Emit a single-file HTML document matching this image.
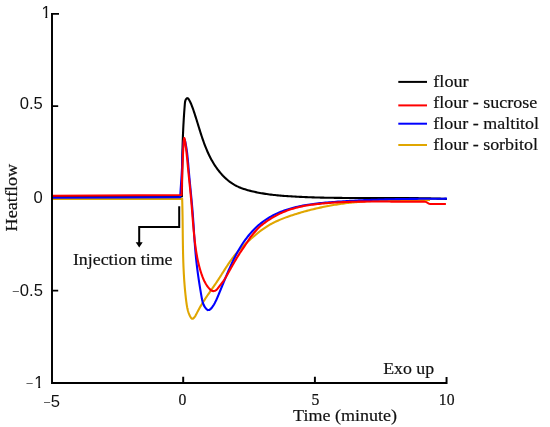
<!DOCTYPE html>
<html>
<head>
<meta charset="utf-8">
<title>Heatflow</title>
<style>
html,body{margin:0;padding:0;background:#fff;}
svg{display:block;}
.ser{font-family:"Liberation Serif","DejaVu Serif",serif;fill:#111;}
.san{font-family:"Liberation Sans","DejaVu Sans",sans-serif;fill:#111;}
</style>
</head>
<body>
<svg width="550" height="427" viewBox="0 0 550 427">
<rect width="550" height="427" fill="#ffffff"/>
<!-- curves -->
<g fill="none" stroke-width="2.1" stroke-linejoin="round" stroke-linecap="butt">
<path d="M52,196.5 L181.9,196.5 L181.90,196.49 L181.91,195.12 L181.93,193.74 L181.94,192.36 L181.96,190.98 L181.97,189.60 L181.98,188.21 L182.00,186.83 L182.01,185.45 L182.02,184.06 L182.04,182.67 L182.05,181.29 L182.06,179.90 L182.08,178.51 L182.09,177.12 L182.10,175.73 L182.12,174.34 L182.13,172.95 L182.15,171.55 L182.16,170.16 L182.18,168.77 L182.19,167.38 L182.21,165.99 L182.23,164.59 L182.25,163.20 L182.27,161.81 L182.29,160.42 L182.31,159.02 L182.34,157.63 L182.36,156.24 L182.39,154.85 L182.42,153.46 L182.45,152.07 L182.48,150.68 L182.51,149.29 L182.55,147.91 L182.58,146.52 L182.62,145.14 L182.66,143.75 L182.70,142.37 L182.75,140.98 L182.79,139.60 L182.84,138.22 L182.89,136.84 L182.94,135.47 L183.00,134.09 L183.06,132.71 L183.12,131.34 L183.18,129.96 L183.24,128.59 L183.31,127.21 L183.38,125.84 L183.45,124.46 L183.53,123.08 L183.61,121.70 L183.69,120.32 L183.77,118.93 L183.86,117.55 L183.95,116.16 L184.04,114.76 L184.13,113.37 L184.23,111.97 L184.33,110.56 L184.44,109.15 L184.54,107.74 L184.65,106.32 L184.77,104.89 L184.88,103.46 L185.04,102.04 L185.34,100.69 L185.88,99.44 L186.76,98.39 L187.74,98.16 L188.57,99.06 L189.31,100.25 L189.97,101.47 L190.58,102.71 L191.14,103.98 L191.66,105.27 L192.15,106.57 L192.63,107.88 L193.09,109.20 L193.55,110.52 L193.99,111.84 L194.43,113.16 L194.87,114.48 L195.29,115.81 L195.72,117.14 L196.14,118.47 L196.55,119.79 L196.96,121.13 L197.38,122.46 L197.78,123.79 L198.19,125.12 L198.60,126.45 L199.01,127.78 L199.42,129.10 L199.83,130.43 L200.25,131.76 L200.67,133.08 L201.09,134.40 L201.52,135.72 L201.95,137.03 L202.39,138.35 L202.84,139.66 L203.30,140.96 L203.76,142.26 L204.24,143.56 L204.72,144.85 L205.21,146.14 L205.72,147.42 L206.24,148.70 L206.77,149.97 L207.31,151.24 L207.87,152.50 L208.44,153.75 L209.03,155.00 L209.64,156.23 L210.26,157.47 L210.90,158.69 L211.56,159.91 L212.23,161.11 L212.93,162.31 L213.65,163.50 L214.39,164.69 L215.15,165.86 L215.94,167.02 L216.74,168.16 L217.57,169.30 L218.42,170.42 L219.29,171.52 L220.18,172.60 L221.09,173.66 L222.02,174.71 L222.98,175.73 L223.96,176.72 L224.96,177.69 L225.98,178.64 L227.02,179.56 L228.08,180.44 L229.16,181.30 L230.27,182.13 L231.40,182.92 L232.54,183.68 L233.71,184.40 L234.90,185.08 L236.11,185.73 L237.34,186.34 L238.59,186.92 L239.85,187.46 L241.13,187.98 L242.42,188.47 L243.73,188.93 L245.04,189.36 L246.37,189.77 L247.70,190.16 L249.05,190.53 L250.39,190.88 L251.75,191.22 L253.10,191.53 L254.46,191.84 L255.83,192.13 L257.19,192.41 L258.55,192.68 L259.92,192.93 L261.29,193.18 L262.65,193.41 L264.02,193.63 L265.39,193.84 L266.77,194.05 L268.14,194.24 L269.51,194.42 L270.89,194.60 L272.27,194.76 L273.64,194.92 L275.02,195.07 L276.40,195.22 L277.78,195.35 L279.16,195.48 L280.54,195.60 L281.92,195.72 L283.30,195.83 L284.69,195.94 L286.07,196.04 L287.45,196.13 L288.84,196.23 L290.22,196.31 L291.61,196.40 L292.99,196.48 L294.37,196.56 L295.76,196.63 L297.14,196.70 L298.53,196.77 L299.91,196.84 L301.30,196.91 L302.68,196.97 L304.07,197.03 L305.46,197.09 L306.84,197.14 L308.23,197.20 L309.61,197.25 L311.00,197.30 L312.38,197.34 L313.77,197.39 L315.16,197.43 L316.54,197.47 L317.93,197.51 L319.31,197.55 L320.70,197.58 L322.09,197.62 L323.47,197.65 L324.86,197.68 L326.25,197.71 L327.63,197.73 L329.02,197.76 L330.41,197.78 L331.79,197.80 L333.18,197.82 L334.57,197.84 L335.95,197.86 L337.34,197.88 L338.73,197.89 L340.11,197.91 L341.50,197.92 L342.89,197.93 L344.28,197.94 L345.66,197.95 L347.05,197.96 L348.44,197.97 L349.83,197.97 L351.21,197.98 L352.60,197.99 L353.99,197.99 L355.37,197.99 L356.76,198.00 L358.15,198.00 L359.54,198.00 L360.92,198.00 L362.31,198.00 L363.70,198.00 L365.09,198.00 L366.47,198.00 L367.86,198.00 L369.25,198.00 L370.64,198.00 L372.02,198.00 L373.41,198.00 L374.80,198.00 L376.19,197.99 L377.57,197.99 L378.96,197.99 L380.35,197.99 L381.74,197.99 L383.12,197.99 L384.51,197.99 L385.90,197.99 L387.29,197.99 L388.67,197.99 L390.06,197.99 L391.45,197.99 L392.83,197.99 L394.22,197.99 L395.61,197.99 L397.00,198.00 L398.38,198.00 L399.77,198.01 L401.16,198.01 L402.54,198.02 L403.93,198.03 L405.32,198.03 L406.70,198.04 L408.09,198.05 L409.48,198.07 L410.86,198.08 L412.25,198.09 L413.64,198.11 L415.02,198.12 L416.41,198.14 L417.80,198.16 L419.18,198.18 L420.57,198.20 L421.95,198.22 L423.34,198.25 L424.73,198.27 L426.11,198.30 L427.50,198.33 L428.88,198.36 L430.27,198.39 L431.66,198.43 L433.04,198.46 L434.43,198.50 L435.81,198.54 L437.20,198.58 L438.58,198.62 L439.97,198.67 L441.35,198.72 L442.74,198.77 L444.12,198.82 L445.51,198.88 L446.89,198.93" stroke="#000000"/>
<path d="M52,198.95 L182.2,198.8 L182.20,200.01 L182.24,201.37 L182.28,202.73 L182.31,204.09 L182.35,205.45 L182.38,206.81 L182.41,208.17 L182.44,209.54 L182.46,210.90 L182.49,212.26 L182.51,213.62 L182.54,214.99 L182.56,216.35 L182.58,217.71 L182.59,219.08 L182.61,220.44 L182.63,221.81 L182.65,223.17 L182.66,224.53 L182.68,225.90 L182.69,227.26 L182.71,228.63 L182.72,229.99 L182.74,231.36 L182.75,232.72 L182.77,234.09 L182.78,235.45 L182.80,236.82 L182.81,238.18 L182.83,239.55 L182.85,240.92 L182.87,242.28 L182.89,243.65 L182.91,245.01 L182.93,246.38 L182.95,247.74 L182.98,249.11 L183.01,250.47 L183.03,251.84 L183.06,253.20 L183.10,254.56 L183.13,255.93 L183.17,257.29 L183.21,258.66 L183.25,260.02 L183.29,261.38 L183.34,262.75 L183.39,264.11 L183.44,265.47 L183.50,266.84 L183.56,268.20 L183.62,269.56 L183.68,270.92 L183.75,272.28 L183.82,273.64 L183.90,275.01 L183.98,276.37 L184.06,277.73 L184.15,279.09 L184.24,280.45 L184.34,281.80 L184.44,283.16 L184.54,284.52 L184.65,285.88 L184.76,287.24 L184.88,288.59 L185.01,289.95 L185.14,291.30 L185.27,292.66 L185.41,294.01 L185.56,295.37 L185.71,296.72 L185.86,298.08 L186.02,299.43 L186.19,300.78 L186.36,302.13 L186.55,303.48 L186.74,304.83 L186.96,306.18 L187.20,307.52 L187.48,308.86 L187.80,310.19 L188.18,311.52 L188.62,312.84 L189.12,314.15 L189.70,315.45 L190.36,316.74 L191.11,317.95 L191.97,318.72 L192.93,318.67 L193.93,317.87 L194.82,316.77 L195.58,315.59 L196.24,314.36 L196.86,313.12 L197.48,311.88 L198.12,310.65 L198.77,309.43 L199.43,308.23 L200.11,307.04 L200.80,305.85 L201.50,304.68 L202.21,303.51 L202.93,302.35 L203.66,301.20 L204.40,300.06 L205.15,298.92 L205.90,297.79 L206.66,296.66 L207.42,295.53 L208.19,294.41 L208.96,293.29 L209.73,292.17 L210.51,291.06 L211.29,289.94 L212.06,288.83 L212.84,287.71 L213.61,286.59 L214.39,285.47 L215.16,284.35 L215.92,283.23 L216.69,282.09 L217.45,280.96 L218.20,279.82 L218.94,278.67 L219.68,277.52 L220.42,276.37 L221.16,275.22 L221.89,274.06 L222.62,272.90 L223.36,271.74 L224.09,270.59 L224.83,269.43 L225.57,268.28 L226.31,267.13 L227.06,265.98 L227.81,264.84 L228.57,263.71 L229.34,262.58 L230.11,261.46 L230.90,260.35 L231.70,259.24 L232.51,258.15 L233.33,257.07 L234.16,256.00 L235.01,254.94 L235.87,253.90 L236.75,252.87 L237.64,251.85 L238.55,250.84 L239.46,249.85 L240.39,248.86 L241.34,247.89 L242.29,246.92 L243.25,245.96 L244.22,245.01 L245.21,244.07 L246.20,243.13 L247.19,242.20 L248.20,241.28 L249.21,240.36 L250.23,239.44 L251.25,238.53 L252.28,237.63 L253.32,236.72 L254.36,235.83 L255.41,234.95 L256.47,234.07 L257.54,233.21 L258.61,232.36 L259.69,231.52 L260.79,230.69 L261.89,229.88 L263.00,229.08 L264.12,228.30 L265.25,227.54 L266.39,226.80 L267.54,226.07 L268.70,225.37 L269.88,224.69 L271.06,224.03 L272.26,223.39 L273.46,222.76 L274.67,222.16 L275.90,221.57 L277.13,221.00 L278.36,220.44 L279.61,219.90 L280.86,219.37 L282.12,218.86 L283.39,218.35 L284.66,217.87 L285.94,217.39 L287.22,216.92 L288.51,216.47 L289.80,216.02 L291.09,215.59 L292.39,215.16 L293.69,214.74 L294.99,214.32 L296.29,213.91 L297.60,213.51 L298.90,213.12 L300.21,212.73 L301.52,212.34 L302.84,211.97 L304.15,211.60 L305.47,211.23 L306.78,210.88 L308.10,210.52 L309.42,210.18 L310.74,209.84 L312.07,209.51 L313.39,209.18 L314.72,208.86 L316.05,208.55 L317.38,208.24 L318.71,207.94 L320.04,207.64 L321.37,207.35 L322.71,207.07 L324.04,206.80 L325.38,206.53 L326.72,206.26 L328.05,206.01 L329.39,205.76 L330.74,205.51 L332.08,205.27 L333.42,205.04 L334.77,204.82 L336.11,204.60 L337.46,204.39 L338.81,204.18 L340.15,203.98 L341.50,203.79 L342.85,203.60 L344.20,203.42 L345.55,203.25 L346.91,203.08 L348.26,202.92 L349.61,202.77 L350.97,202.62 L352.32,202.47 L353.68,202.34 L355.03,202.21 L356.39,202.08 L357.75,201.96 L359.10,201.84 L360.46,201.73 L361.82,201.63 L363.18,201.53 L364.54,201.43 L365.90,201.34 L367.26,201.25 L368.62,201.17 L369.99,201.10 L371.35,201.02 L372.71,200.95 L374.07,200.89 L375.44,200.82 L376.80,200.77 L378.16,200.71 L379.53,200.66 L380.89,200.61 L382.26,200.57 L383.62,200.53 L384.99,200.49 L386.35,200.45 L387.72,200.42 L389.08,200.39 L390.45,200.36 L391.81,200.33 L393.18,200.31 L394.54,200.29 L395.91,200.27 L397.27,200.25 L398.64,200.23 L400.01,200.21 L401.37,200.20 L402.74,200.19 L404.10,200.18 L405.47,200.17 L406.83,200.16 L408.20,200.15 L409.56,200.14 L410.93,200.13 L412.29,200.13 L413.65,200.12 L415.02,200.11 L416.38,200.11 L417.74,200.10 L419.11,200.09 L420.47,200.08 L421.83,200.08 L423.19,200.07 L424.55,200.06 L425.92,200.05 L427.28,200.04 L428.64,200.03 L430.00,200.01" stroke="#e0a600"/>
<path d="M52,197.7 L180.0,197.15 L180.20,197.15 L180.30,195.38 L180.40,193.63 L180.51,191.88 L180.62,190.14 L180.73,188.39 L180.85,186.65 L180.97,184.90 L181.09,183.14 L181.21,181.36 L181.33,179.57 L181.45,177.77 L181.56,175.96 L181.67,174.15 L181.78,172.35 L181.88,170.58 L181.98,168.83 L182.06,167.13 L182.13,165.49 L182.19,163.90 L182.25,162.35 L182.30,160.82 L182.35,159.28 L182.41,157.70 L182.48,156.05 L182.56,154.31 L182.67,152.45 L182.81,150.43 L182.98,148.24 L183.18,145.84 L183.43,143.40 L183.72,141.25 L184.04,139.74 L184.41,139.23 L184.82,139.96 L185.23,141.58 L185.62,143.50 L185.98,145.40 L186.30,147.27 L186.59,149.11 L186.85,150.93 L187.09,152.72 L187.30,154.50 L187.49,156.26 L187.67,158.01 L187.84,159.75 L187.99,161.47 L188.14,163.20 L188.29,164.92 L188.43,166.64 L188.58,168.36 L188.73,170.08 L188.88,171.81 L189.04,173.55 L189.20,175.28 L189.36,177.02 L189.53,178.76 L189.69,180.50 L189.86,182.25 L190.03,184.00 L190.20,185.75 L190.37,187.50 L190.54,189.25 L190.71,191.01 L190.88,192.76 L191.05,194.52 L191.22,196.28 L191.39,198.04 L191.55,199.80 L191.71,201.56 L191.87,203.32 L192.03,205.08 L192.18,206.84 L192.34,208.60 L192.48,210.37 L192.62,212.13 L192.76,213.89 L192.89,215.64 L193.02,217.40 L193.15,219.16 L193.27,220.92 L193.39,222.67 L193.51,224.43 L193.62,226.19 L193.74,227.94 L193.85,229.69 L193.96,231.45 L194.08,233.20 L194.19,234.95 L194.31,236.71 L194.43,238.46 L194.55,240.21 L194.67,241.96 L194.80,243.71 L194.93,245.46 L195.06,247.21 L195.20,248.96 L195.34,250.71 L195.50,252.46 L195.65,254.21 L195.82,255.96 L195.99,257.71 L196.17,259.46 L196.35,261.21 L196.55,262.96 L196.75,264.70 L196.96,266.45 L197.17,268.20 L197.40,269.95 L197.63,271.70 L197.86,273.44 L198.10,275.19 L198.35,276.93 L198.60,278.68 L198.86,280.42 L199.13,282.17 L199.40,283.91 L199.68,285.65 L199.96,287.39 L200.24,289.13 L200.54,290.87 L200.83,292.61 L201.13,294.34 L201.44,296.08 L201.74,297.81 L202.07,299.54 L202.45,301.25 L202.93,302.94 L203.53,304.58 L204.30,306.17 L205.27,307.70 L206.47,309.13 L207.88,310.08 L209.38,309.91 L210.81,308.82 L212.03,307.44 L213.07,305.97 L213.99,304.45 L214.85,302.90 L215.65,301.32 L216.41,299.73 L217.12,298.12 L217.81,296.50 L218.49,294.88 L219.16,293.25 L219.83,291.63 L220.49,290.01 L221.16,288.39 L221.82,286.77 L222.49,285.14 L223.16,283.52 L223.82,281.90 L224.50,280.28 L225.17,278.65 L225.84,277.03 L226.52,275.40 L227.21,273.78 L227.90,272.15 L228.60,270.53 L229.31,268.91 L230.02,267.30 L230.75,265.68 L231.48,264.08 L232.23,262.48 L232.99,260.88 L233.76,259.29 L234.54,257.72 L235.34,256.15 L236.16,254.58 L236.99,253.03 L237.84,251.49 L238.71,249.97 L239.60,248.45 L240.51,246.95 L241.44,245.46 L242.39,243.99 L243.37,242.53 L244.37,241.09 L245.39,239.66 L246.44,238.26 L247.51,236.87 L248.61,235.50 L249.74,234.15 L250.89,232.83 L252.07,231.52 L253.28,230.24 L254.51,228.99 L255.77,227.76 L257.05,226.56 L258.36,225.39 L259.69,224.25 L261.05,223.14 L262.44,222.06 L263.85,221.02 L265.29,220.00 L266.75,219.03 L268.24,218.08 L269.76,217.18 L271.29,216.31 L272.85,215.48 L274.43,214.68 L276.02,213.91 L277.64,213.18 L279.26,212.48 L280.90,211.81 L282.55,211.17 L284.21,210.56 L285.88,209.98 L287.55,209.43 L289.23,208.90 L290.92,208.40 L292.61,207.93 L294.31,207.49 L296.01,207.06 L297.72,206.66 L299.43,206.29 L301.15,205.93 L302.87,205.59 L304.59,205.28 L306.32,204.98 L308.06,204.70 L309.79,204.43 L311.53,204.18 L313.27,203.95 L315.02,203.72 L316.77,203.52 L318.52,203.32 L320.27,203.13 L322.02,202.96 L323.77,202.79 L325.53,202.63 L327.29,202.48 L329.04,202.34 L330.80,202.20 L332.56,202.06 L334.32,201.93 L336.07,201.80 L337.83,201.67 L339.59,201.55 L341.35,201.43 L343.11,201.32 L344.86,201.21 L346.62,201.10 L348.38,200.99 L350.14,200.89 L351.90,200.79 L353.65,200.69 L355.41,200.60 L357.17,200.51 L358.93,200.42 L360.69,200.34 L362.45,200.25 L364.20,200.17 L365.96,200.10 L367.72,200.02 L369.48,199.95 L371.24,199.88 L373.00,199.82 L374.75,199.75 L376.51,199.69 L378.27,199.63 L380.03,199.57 L381.79,199.52 L383.55,199.47 L385.31,199.42 L387.06,199.37 L388.82,199.32 L390.58,199.28 L392.34,199.24 L394.10,199.20 L395.86,199.16 L397.62,199.12 L399.38,199.09 L401.14,199.05 L402.90,199.02 L404.66,198.99 L406.41,198.96 L408.17,198.94 L409.93,198.91 L411.69,198.89 L413.45,198.87 L415.21,198.85 L416.97,198.83 L418.73,198.81 L420.49,198.80 L422.25,198.78 L424.01,198.77 L425.77,198.75 L427.53,198.74 L429.29,198.73 L431.05,198.72 L432.82,198.71 L434.58,198.70 L436.34,198.70 L438.10,198.69 L439.86,198.69 L441.62,198.68 L443.38,198.68 L445.14,198.67 L446.90,198.67" stroke="#0000ff"/>
<path d="M52,195.75 L181.3,195.0 L181.60,194.90 L181.63,193.41 L181.66,191.89 L181.70,190.33 L181.74,188.75 L181.79,187.14 L181.83,185.52 L181.88,183.89 L181.93,182.26 L181.99,180.62 L182.04,178.99 L182.09,177.37 L182.15,175.77 L182.20,174.18 L182.26,172.63 L182.31,171.10 L182.36,169.62 L182.42,168.17 L182.47,166.77 L182.51,165.42 L182.56,164.10 L182.61,162.78 L182.66,161.47 L182.71,160.12 L182.77,158.74 L182.83,157.30 L182.90,155.79 L182.98,154.18 L183.06,152.46 L183.16,150.62 L183.26,148.63 L183.38,146.48 L183.51,144.18 L183.66,141.92 L183.83,139.95 L184.02,138.55 L184.26,137.97 L184.52,138.46 L184.82,139.85 L185.11,141.73 L185.39,143.65 L185.63,145.38 L185.84,146.96 L186.03,148.45 L186.21,149.89 L186.38,151.33 L186.54,152.81 L186.70,154.31 L186.86,155.84 L187.01,157.38 L187.16,158.94 L187.31,160.51 L187.46,162.09 L187.61,163.67 L187.76,165.26 L187.91,166.85 L188.06,168.44 L188.21,170.02 L188.37,171.60 L188.53,173.18 L188.68,174.75 L188.84,176.32 L189.00,177.88 L189.16,179.45 L189.32,181.01 L189.48,182.57 L189.64,184.13 L189.79,185.69 L189.95,187.24 L190.11,188.80 L190.26,190.35 L190.41,191.91 L190.56,193.46 L190.71,195.01 L190.86,196.57 L191.00,198.12 L191.15,199.67 L191.28,201.23 L191.42,202.78 L191.55,204.34 L191.68,205.90 L191.81,207.45 L191.93,209.01 L192.06,210.57 L192.18,212.13 L192.30,213.69 L192.43,215.26 L192.55,216.82 L192.67,218.38 L192.80,219.94 L192.92,221.51 L193.05,223.07 L193.18,224.63 L193.31,226.20 L193.45,227.76 L193.59,229.32 L193.73,230.88 L193.87,232.45 L194.03,234.01 L194.18,235.57 L194.34,237.13 L194.51,238.69 L194.68,240.26 L194.86,241.82 L195.05,243.37 L195.25,244.93 L195.45,246.49 L195.67,248.04 L195.89,249.60 L196.13,251.15 L196.37,252.69 L196.63,254.24 L196.91,255.78 L197.19,257.32 L197.50,258.86 L197.81,260.39 L198.15,261.91 L198.50,263.44 L198.87,264.95 L199.25,266.47 L199.66,267.97 L200.08,269.47 L200.53,270.97 L201.00,272.46 L201.48,273.94 L202.00,275.42 L202.54,276.89 L203.12,278.34 L203.73,279.78 L204.40,281.20 L205.12,282.59 L205.90,283.96 L206.74,285.30 L207.66,286.61 L208.66,287.89 L209.74,289.12 L210.92,290.21 L212.23,290.94 L213.69,291.10 L215.21,290.64 L216.55,289.76 L217.61,288.60 L218.56,287.34 L219.51,286.07 L220.47,284.82 L221.44,283.56 L222.39,282.31 L223.32,281.04 L224.21,279.76 L225.05,278.46 L225.85,277.15 L226.62,275.81 L227.39,274.46 L228.16,273.10 L228.92,271.73 L229.70,270.35 L230.47,268.97 L231.24,267.59 L232.02,266.21 L232.80,264.82 L233.59,263.44 L234.38,262.07 L235.17,260.71 L235.96,259.35 L236.76,258.01 L237.57,256.68 L238.37,255.37 L239.19,254.08 L240.00,252.81 L240.83,251.56 L241.65,250.33 L242.51,249.10 L243.41,247.79 L244.39,246.36 L245.48,244.76 L246.65,242.99 L247.82,241.22 L248.89,239.57 L249.77,238.19 L250.37,237.23 L250.60,236.83 L250.39,237.09 L250.33,237.22 L250.82,236.66 L251.73,235.58 L252.94,234.15 L254.30,232.55 L255.67,230.98 L256.94,229.57 L258.11,228.35 L259.21,227.26 L260.29,226.26 L261.39,225.32 L262.53,224.40 L263.72,223.47 L264.96,222.55 L266.24,221.64 L267.54,220.74 L268.85,219.87 L270.18,219.01 L271.52,218.18 L272.88,217.37 L274.25,216.58 L275.63,215.81 L277.02,215.07 L278.42,214.36 L279.83,213.66 L281.26,213.00 L282.69,212.36 L284.14,211.75 L285.59,211.16 L287.05,210.61 L288.52,210.08 L290.00,209.58 L291.48,209.10 L292.97,208.64 L294.47,208.21 L295.98,207.81 L297.49,207.42 L299.01,207.06 L300.53,206.71 L302.06,206.39 L303.59,206.08 L305.13,205.80 L306.67,205.52 L308.21,205.27 L309.76,205.03 L311.31,204.80 L312.87,204.59 L314.42,204.39 L315.98,204.20 L317.54,204.02 L319.10,203.85 L320.67,203.69 L322.23,203.54 L323.79,203.39 L325.36,203.26 L326.92,203.13 L328.48,203.00 L330.05,202.88 L331.61,202.77 L333.18,202.67 L334.74,202.57 L336.30,202.47 L337.87,202.38 L339.43,202.30 L341.00,202.22 L342.56,202.15 L344.13,202.08 L345.69,202.02 L347.26,201.96 L348.82,201.91 L350.39,201.86 L351.95,201.81 L353.52,201.77 L355.08,201.73 L356.65,201.70 L358.21,201.67 L359.78,201.64 L361.34,201.62 L362.91,201.59 L364.47,201.58 L366.04,201.56 L367.60,201.55 L369.17,201.54 L370.73,201.53 L372.30,201.53 L373.87,201.52 L375.43,201.52 L377.00,201.52 L378.56,201.53 L380.13,201.53 L381.70,201.53 L383.26,201.54 L384.83,201.55 L386.40,201.56 L387.96,201.56 L389.53,201.57 L391.10,201.58 L392.66,201.59 L394.23,201.60 L395.80,201.61 L397.36,201.62 L398.93,201.63 L400.50,201.64 L402.06,201.65 L403.63,201.65 L405.20,201.66 L406.76,201.66 L408.33,201.67 L409.90,201.67 L411.47,201.67 L413.03,201.67 L414.60,201.66 L416.17,201.66 L417.73,201.65 L419.30,201.64 L420.87,201.63 L422.44,201.61 L424.00,201.60 L425.3,201.7 C427.6,201.8 427.4,204 430,204 L445.9,204" stroke="#ff0000"/>
</g>
<!-- axes -->
<g fill="none" stroke="#000" stroke-width="1.95">
<path d="M59,13.85 L52,13.85 L52,383 L446.55,383 L446.55,376.9"/>
<path d="M52,106.1 h6.2 M52,290.6 h6.2"/>
<path d="M183.2,383 v-6.3 M314.9,383 v-6.3"/>
</g>
<!-- arrow -->
<path d="M179.2,206.3 V227.1 H139.2 V243" fill="none" stroke="#000" stroke-width="2"/>
<path d="M135.7,242.2 L142.7,242.2 L139.2,247.6 Z" fill="#000"/>
<!-- legend -->
<g stroke-width="2" fill="none">
<path d="M398.3,81.9 H427" stroke="#000"/>
<path d="M398.3,105.4 H427" stroke="#ff0000"/>
<path d="M398.3,123.7 H427" stroke="#0000ff"/>
<path d="M398.3,145.0 H427" stroke="#e0a600"/>
</g>
<g class="ser" font-size="17" stroke="#111" stroke-width="0.2">
<text x="433.3" y="87.0" textLength="35.3" lengthAdjust="spacingAndGlyphs">flour</text>
<text x="433.3" y="108.2" textLength="104.0" lengthAdjust="spacingAndGlyphs">flour - sucrose</text>
<text x="433.3" y="129.3" textLength="105.8" lengthAdjust="spacingAndGlyphs">flour - maltitol</text>
<text x="433.3" y="150.3" textLength="104.7" lengthAdjust="spacingAndGlyphs">flour - sorbitol</text>
<text x="72.9" y="265.0" textLength="99.6" lengthAdjust="spacingAndGlyphs">Injection time</text>
<text x="383.2" y="374.3" textLength="50.9" lengthAdjust="spacingAndGlyphs">Exo up</text>
<text x="293.1" y="420.8" textLength="103.8" lengthAdjust="spacingAndGlyphs">Time (minute)</text>
<text transform="translate(16.7,231.4) rotate(-90)" font-size="16.4" textLength="67.6" lengthAdjust="spacingAndGlyphs">Heatflow</text>
</g>
<g class="ser" font-size="15.7" stroke="#111" stroke-width="0.2">
<text x="178.6" y="404.5">0</text>
<text x="311.6" y="404.5">5</text>
<text x="438.8" y="404.5">10</text>
</g>
<defs>
<clipPath id="c1"><rect x="36" y="0" width="16" height="16"/><rect x="45.3" y="15.9" width="2.0" height="3"/></clipPath>
<clipPath id="c2"><rect x="30" y="370" width="14" height="16"/><rect x="38.2" y="385.9" width="2.0" height="3"/></clipPath>
</defs>
<g class="san" font-size="16.6">
<text x="41.4" y="17.8" clip-path="url(#c1)">1</text>
<text x="19.7" y="109.2">0.5</text>
<text x="33.6" y="203.4">0</text>
<text x="19.8" y="295.5">0.5</text>
<text x="34.3" y="387.6" clip-path="url(#c2)">1</text>
<text x="50.7" y="406.5">5</text>
</g>
<g class="ser" font-size="13.3">
<text x="12.1" y="295.9">−</text>
<text x="25.7" y="388.0">−</text>
<text x="43.3" y="406.9">−</text>
</g>
</svg>
</body>
</html>
